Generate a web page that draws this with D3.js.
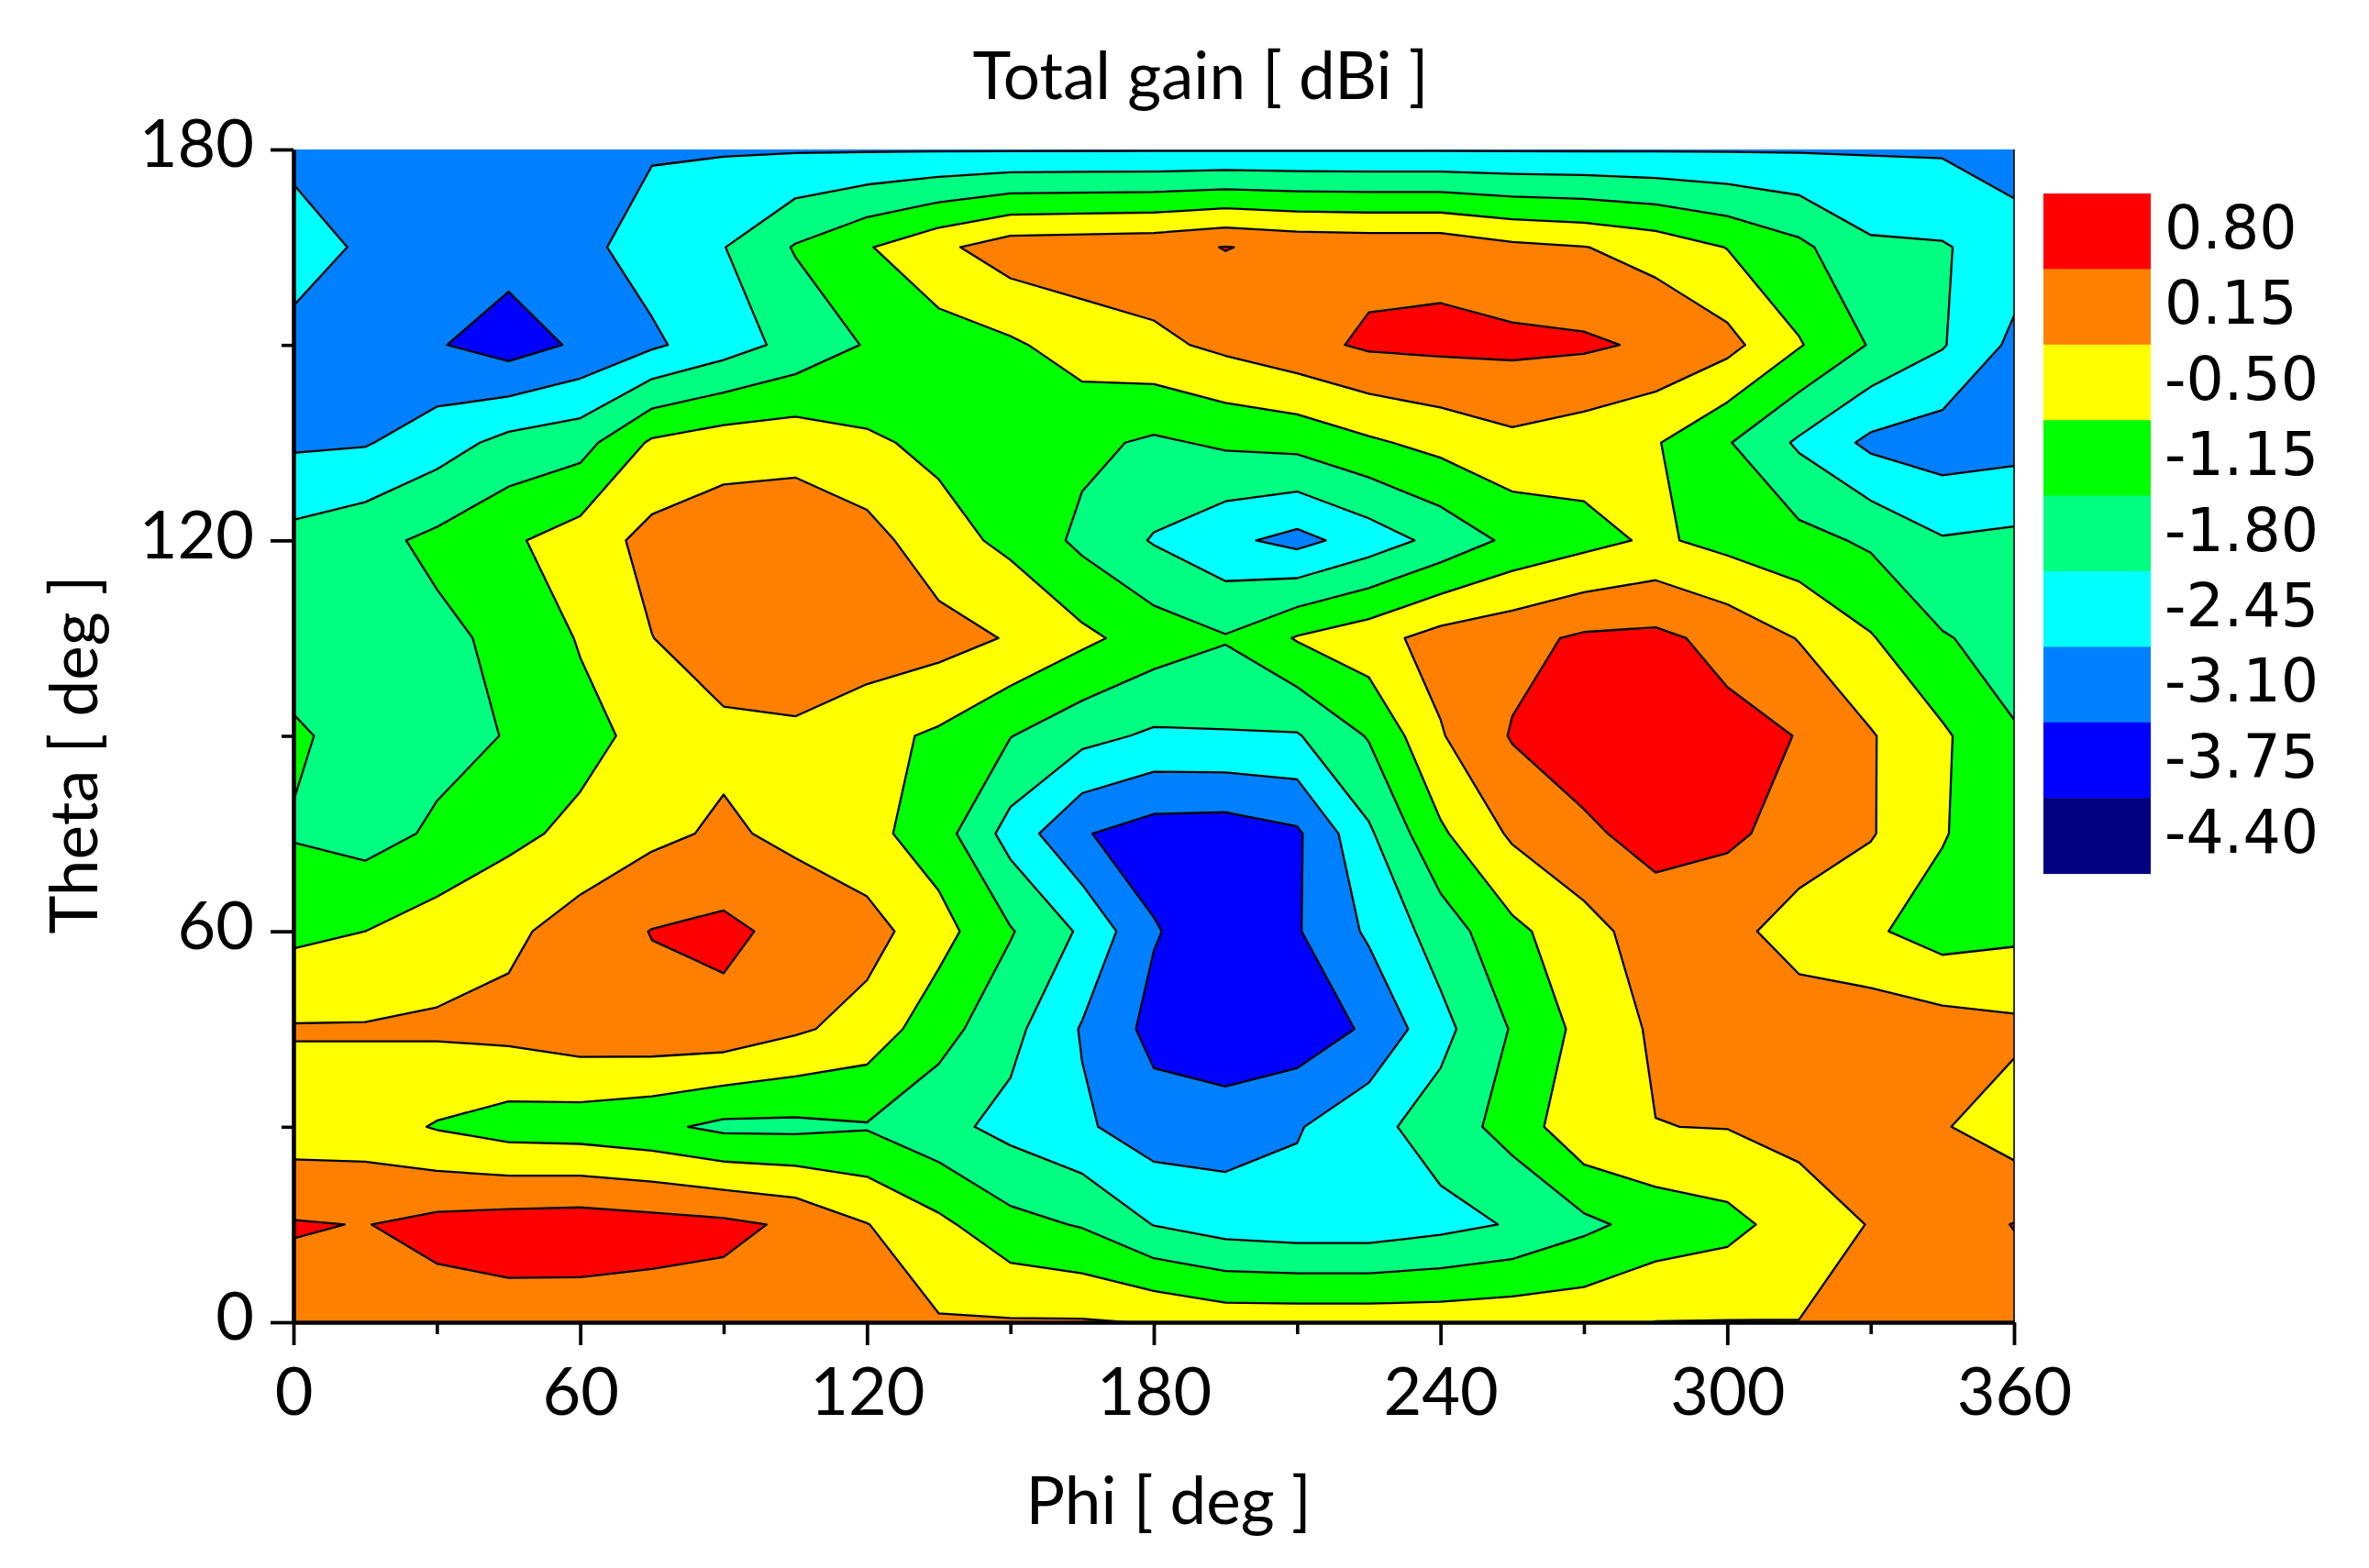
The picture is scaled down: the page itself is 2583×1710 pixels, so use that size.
<!DOCTYPE html>
<html>
<head>
<meta charset="utf-8">
<script src="https://cdn.jsdelivr.net/npm/d3@7"></script>
<style>
  html, body { margin: 0; padding: 0; background: #ffffff; }
  svg { display: block; }
</style>
</head>
<body>
<svg id="chart" width="2583" height="1710"></svg>
<script>
// ---------------- DATA ----------------
// grid columns (Phi, deg) and rows (Theta, deg, top row first)
const phiGrid = [0,15,30,45,60,75,90,105,120,135,150,165,180,195,210,225,240,255,270,285,300,315,330,345,360];
const thetaGrid = [180,165,150,135,120,105,90,75,60,45,30,15,0];

// total gain [dBi] per Theta row, one value per Phi column
const gainTheta180 = [-2.7,-2.8,-2.8,-2.85,-2.8,-2.5,-2.5,-2.5,-2.5,-2.5,-2.5,-2.5,-2.5,-2.5,-2.5,-2.5,-2.5,-2.5,-2.5,-2.5,-2.5,-2.5,-2.5,-2.52,-2.8];
const gainTheta165 = [-2.0,-2.6,-2.8,-2.85,-2.6,-2.2,-1.82,-1.1,-0.55,0.0,0.5,0.55,0.6,0.82,0.65,0.6,0.6,0.3,0.17,-0.1,-0.52,-1.0,-1.7,-1.75,-2.1];
const gainTheta150 = [-2.75,-2.8,-3.05,-3.4,-3.0,-2.55,-2.1,-1.6,-1.1,-0.8,-0.6,-0.2,0.0,0.3,0.6,0.9,0.95,0.95,0.9,0.7,0.35,-0.45,-1.2,-1.75,-2.6];
const gainTheta135 = [-2.55,-2.5,-2.1,-1.6,-1.4,-0.4,-0.15,-0.1,-0.4,-0.65,-0.8,-1.0,-1.25,-1.05,-0.95,-0.6,-0.3,0.0,-0.2,-0.45,-1.1,-1.9,-2.6,-2.8,-2.7];
const gainTheta120 = [-1.6,-1.35,-1.0,-0.6,-0.2,0.35,0.55,0.6,0.4,-0.25,-0.65,-1.3,-1.85,-2.3,-2.65,-2.15,-1.6,-1.0,-0.7,-0.4,-0.7,-0.95,-1.25,-1.75,-1.65];
const gainTheta105 = [-1.5,-1.4,-1.3,-1.0,-0.45,0.14,0.5,0.55,0.55,0.4,0.1,-0.35,-0.8,-1.1,-0.45,-0.1,0.4,0.6,0.9,0.95,0.6,0.12,-0.45,-1.1,-1.4];
const gainTheta90  = [-1.05,-1.4,-1.35,-1.12,-0.7,-0.3,0.0,0.05,-0.3,-0.6,-1.13,-1.6,-1.9,-1.85,-1.85,-1.1,0.1,0.85,1.1,1.15,1.0,0.78,0.2,-0.4,-1.1];
const gainTheta75  = [-1.2,-1.4,-1.05,-0.65,-0.35,0.0,0.25,0.0,-0.3,-0.85,-2.05,-3.05,-3.4,-3.45,-3.2,-1.9,-0.6,0.25,0.7,1.0,0.9,0.6,0.2,-0.45,-1.0];
const gainTheta60  = [-0.65,-0.5,-0.2,0.0,0.45,0.82,0.95,0.6,0.4,-0.25,-1.1,-1.9,-3.05,-3.5,-3.15,-2.35,-1.5,-0.65,-0.1,0.5,0.4,-0.2,-0.4,-0.8,-0.65];
const gainTheta45  = [0.2,0.2,0.25,0.35,0.55,0.6,0.6,0.25,-0.1,-0.9,-1.6,-2.5,-3.3,-3.6,-3.5,-3.0,-2.0,-1.1,-0.3,0.25,0.45,0.6,0.55,0.45,0.3];
const gainTheta30  = [-0.2,-0.2,-0.55,-0.8,-0.85,-1.0,-1.3,-1.3,-1.2,-1.6,-2.0,-2.35,-2.8,-2.75,-2.5,-2.0,-1.5,-0.9,0.0,0.14,0.17,0.35,0.45,0.2,-0.2];
const gainTheta15  = [0.85,0.78,1.0,1.1,1.15,1.05,0.95,0.7,0.17,-0.35,-0.95,-1.2,-1.82,-2.1,-2.2,-2.2,-2.0,-1.75,-1.3,-0.9,-0.7,-0.2,0.18,0.5,0.82];
const gainTheta0   = [0.5,0.5,0.5,0.55,0.5,0.5,0.5,0.5,0.4,0.2,0.2,0.2,0.12,-0.1,-0.1,-0.1,-0.1,-0.05,-0.05,0.16,0.17,0.16,0.45,0.5,0.5];

// contour levels and their fill colours (fill applies at and above the level)
const levels = [-4.40,-3.75,-3.10,-2.45,-1.80,-1.15,-0.50,0.15,0.80];
const levelLabels = ["-4.40","-3.75","-3.10","-2.45","-1.80","-1.15","-0.50","0.15","0.80"];
const levelColors = ["#000080","#0000FF","#0080FF","#00FFFF","#00FF80","#00FF00","#FFFF00","#FF8000","#FF0000"];

// axis ticks
const phiMajorTicks = [0,60,120,180,240,300,360];
const phiMinorTicks = [30,90,150,210,270,330];
const thetaMajorTicks = [0,60,120,180];
const thetaMinorTicks = [30,90,150];

// ---------------- LAYOUT ----------------
const L = 320, R = 2196, T = 163, B = 1442;
const FONT = "Lato, 'Open Sans', sans-serif";

const svg = d3.select("#chart");
svg.append("rect").attr("width", 2583).attr("height", 1710).attr("fill", "#ffffff");

const x = d3.scaleLinear().domain([0, 360]).range([L, R]);
const y = d3.scaleLinear().domain([0, 180]).range([B, T]);

// grid-index scales: d3.contours puts value i at i+0.5
const nx = phiGrid.length, ny = thetaGrid.length;
const gx = d3.scaleLinear().domain([0.5, nx - 0.5]).range([x(phiGrid[0]), x(phiGrid[nx - 1])]);
const gy = d3.scaleLinear().domain([0.5, ny - 0.5]).range([y(thetaGrid[0]), y(thetaGrid[ny - 1])]);

const rows = [gainTheta180, gainTheta165, gainTheta150, gainTheta135, gainTheta120, gainTheta105,
              gainTheta90, gainTheta75, gainTheta60, gainTheta45, gainTheta30, gainTheta15, gainTheta0];
const values = [];
rows.forEach(r => r.forEach(v => values.push(v)));

const contours = d3.contours().size([nx, ny]).thresholds(levels)(values);

const proj = d3.geoTransform({
  point: function(cx, cy) { this.stream.point(gx(cx), gy(cy)); }
});
const path = d3.geoPath(proj);

svg.append("defs").append("clipPath").attr("id", "plotClip")
  .append("rect").attr("x", L).attr("y", T).attr("width", R - L).attr("height", B - T);

const plot = svg.append("g").attr("clip-path", "url(#plotClip)");
plot.selectAll("path.band")
  .data(contours)
  .join("path")
  .attr("class", "band")
  .attr("d", path)
  .attr("fill", (d, i) => levelColors[i])
  .attr("stroke", "#000")
  .attr("stroke-width", 2.3)
  .attr("stroke-linejoin", "round");

// thin right frame line
svg.append("line").attr("x1", R).attr("x2", R).attr("y1", T).attr("y2", B)
  .attr("stroke", "#000").attr("stroke-width", 1.6);

// ---------------- AXES ----------------
function styleAxis(g, w) {
  g.select(".domain").attr("stroke-width", 4.6).attr("stroke", "#000");
  g.selectAll(".tick line").attr("stroke-width", w).attr("stroke", "#000");
  g.selectAll(".tick text").attr("font-family", FONT).attr("font-size", 72).attr("fill", "#000");
}

const xMinor = svg.append("g").attr("transform", `translate(0,${B})`)
  .call(d3.axisBottom(x).tickValues(phiMinorTicks).tickSize(13).tickSizeOuter(0).tickFormat(""));
xMinor.select(".domain").remove();
xMinor.selectAll(".tick line").attr("stroke-width", 3.6);

const xMajor = svg.append("g").attr("transform", `translate(0,${B})`)
  .call(d3.axisBottom(x).tickValues(phiMajorTicks).tickSize(25).tickSizeOuter(0).tickPadding(25));
styleAxis(xMajor, 3.8);

const yMinor = svg.append("g").attr("transform", `translate(${L},0)`)
  .call(d3.axisLeft(y).tickValues(thetaMinorTicks).tickSize(13).tickSizeOuter(0).tickFormat(""));
yMinor.select(".domain").remove();
yMinor.selectAll(".tick line").attr("stroke-width", 3.6);

const yMajor = svg.append("g").attr("transform", `translate(${L},0)`)
  .call(d3.axisLeft(y).tickValues(thetaMajorTicks).tickSize(25).tickSizeOuter(0).tickPadding(18));
styleAxis(yMajor, 3.8);
yMajor.selectAll(".tick text").attr("dy", "0.26em");

// ---------------- TITLES ----------------
svg.append("text").attr("x", 1309).attr("y", 108).attr("text-anchor", "middle")
  .attr("font-family", FONT).attr("font-size", 71).attr("fill", "#000")
  .text("Total gain [ dBi ]");

svg.append("text").attr("x", 1274).attr("y", 1662).attr("text-anchor", "middle")
  .attr("font-family", FONT).attr("font-size", 71).attr("fill", "#000")
  .text("Phi [ deg ]");

svg.append("text").attr("transform", "translate(106,823) rotate(-90)").attr("text-anchor", "middle")
  .attr("font-family", FONT).attr("font-size", 71).attr("fill", "#000")
  .text("Theta [ deg ]");

// ---------------- LEGEND ----------------
const legTop = 211, legH = 82.4, legX = 2228, legW = 117;
const legendItems = levels.map((v, i) => ({ label: levelLabels[i], color: levelColors[i] })).reverse();
const leg = svg.append("g");
leg.selectAll("rect").data(legendItems).join("rect")
  .attr("x", legX).attr("y", (d, i) => legTop + i * legH)
  .attr("width", legW).attr("height", legH + 0.5)
  .attr("fill", d => d.color);
leg.selectAll("text").data(legendItems).join("text")
  .attr("x", 2360).attr("y", (d, i) => legTop + i * legH + 60)
  .attr("font-family", "'DejaVu Sans', Verdana, sans-serif").attr("font-size", 65).attr("fill", "#000")
  .text(d => d.label);
</script>
</body>
</html>
